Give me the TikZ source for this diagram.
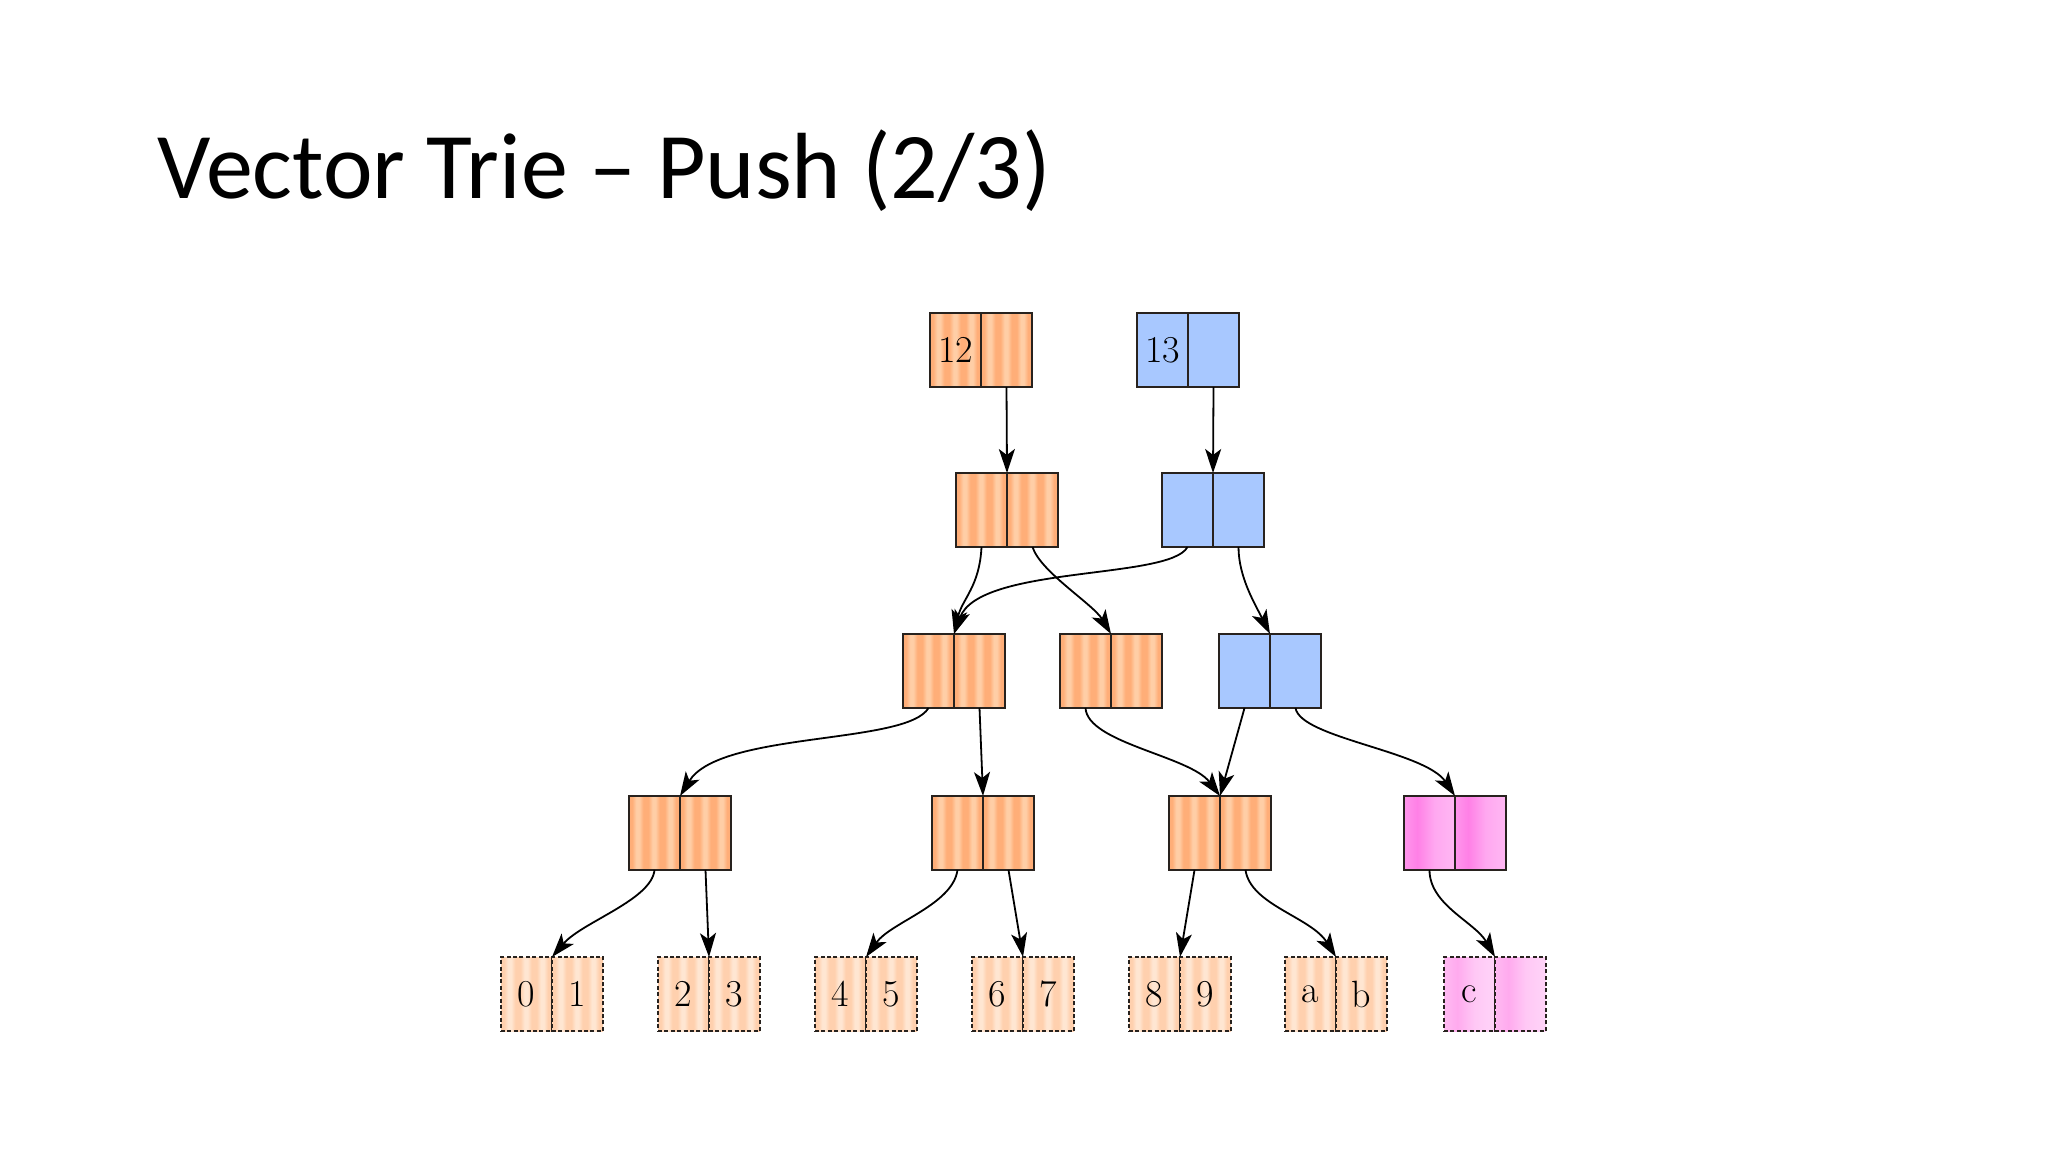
\documentclass[tikz,border=0pt]{standalone}
\usepackage{fontspec}
\newfontfamily\titlefont{Carlito}
\usetikzlibrary{arrows.meta}
\definecolor{orD}{RGB}{255,174,120}
\definecolor{orL}{RGB}{255,206,166}
\definecolor{lfD}{RGB}{255,208,174}
\definecolor{lfL}{RGB}{255,230,210}
\definecolor{blueC}{RGB}{168,200,255}
\definecolor{pkA}{RGB}{255,150,236}
\definecolor{pkB}{RGB}{255,128,230}
\definecolor{pkC}{RGB}{255,168,240}
\definecolor{pkD}{RGB}{255,184,243}
\definecolor{plA}{RGB}{255,186,242}
\definecolor{plB}{RGB}{255,170,238}
\definecolor{plC}{RGB}{255,200,245}
\definecolor{plD}{RGB}{255,212,248}
\definecolor{edgeC}{RGB}{40,34,30}
\pgfdeclarehorizontalshading{ostripe}{100bp}{color(0bp)=(orD); color(25bp)=(orD); color(28bp)=(orD); color(32bp)=(orL); color(35bp)=(orL); color(39bp)=(orD); color(44bp)=(orD); color(48bp)=(orL); color(51bp)=(orL); color(55bp)=(orD); color(60bp)=(orD); color(64bp)=(orL); color(67bp)=(orL); color(71bp)=(orD); color(75bp)=(orD); color(100bp)=(orD)}
\pgfdeclarehorizontalshading{lstripe}{100bp}{color(0bp)=(lfD); color(25bp)=(lfD); color(28bp)=(lfD); color(32bp)=(lfL); color(35bp)=(lfL); color(39bp)=(lfD); color(44bp)=(lfD); color(48bp)=(lfL); color(51bp)=(lfL); color(55bp)=(lfD); color(60bp)=(lfD); color(64bp)=(lfL); color(67bp)=(lfL); color(71bp)=(lfD); color(75bp)=(lfD); color(100bp)=(lfD)}
\pgfdeclarehorizontalshading{pshade}{100bp}{color(0bp)=(pkA); color(25bp)=(pkA); color(38bp)=(pkB); color(55bp)=(pkC); color(75bp)=(pkD); color(100bp)=(pkD)}
\pgfdeclarehorizontalshading{plshade}{100bp}{color(0bp)=(plA); color(25bp)=(plA); color(38bp)=(plB); color(55bp)=(plC); color(75bp)=(plD); color(100bp)=(plD)}
\tikzset{
  cellbase/.style={minimum width=25.5pt, minimum height=37pt, inner sep=0pt, outer sep=0pt,
    font=\fontsize{19}{22}\selectfont},
  ocell/.style={cellbase, shading=ostripe, draw=edgeC, line width=1.2pt},
  bcell/.style={cellbase, fill=blueC, draw=edgeC, line width=1.2pt},
  pcell/.style={cellbase, shading=pshade, draw=edgeC, line width=1.2pt},
  lcell/.style={cellbase, shading=lstripe, draw=edgeC, line width=1pt, dash pattern=on 2pt off 1.2pt},
  plcell/.style={cellbase, shading=plshade, draw=edgeC, line width=1pt, dash pattern=on 2pt off 1.2pt},
  link/.style={draw=black, line width=0.9pt, -{Stealth[length=12pt, width=8pt, inset=3pt]}},
}
\newcommand\twocell[6]{%
  \node[#4] (#1-l) at (#2-25.5,#3) {#5};
  \node[#4] (#1-r) at (#2+25.5,#3) {#6};}
\begin{document}
\begin{tikzpicture}[x=0.5pt, y=-0.5pt]
\useasboundingbox[fill=white] (0,0) rectangle (2048,1152);
\node[anchor=base west, inner sep=0pt, font=\titlefont\fontsize{47}{56}\selectfont] (title) at (157,198) {Vector Trie – Push (2/3)};
% roots
\twocell{r12}{981}{350}{ocell}{12}{}
\twocell{r13}{1188}{350}{bcell}{13}{}
% level 1
\twocell{l1o}{1007}{510}{ocell}{}{}
\twocell{l1b}{1213}{510}{bcell}{}{}
% level 2
\twocell{l2a}{954}{671}{ocell}{}{}
\twocell{l2b}{1111}{671}{ocell}{}{}
\twocell{l2c}{1270}{671}{bcell}{}{}
% level 3
\twocell{l3a}{680}{833}{ocell}{}{}
\twocell{l3b}{983}{833}{ocell}{}{}
\twocell{l3c}{1220}{833}{ocell}{}{}
\twocell{l3d}{1455}{833}{pcell}{}{}
% leaves
\twocell{lf0}{552}{994}{lcell}{0}{1}
\twocell{lf1}{709}{994}{lcell}{2}{3}
\twocell{lf2}{866}{994}{lcell}{4}{5}
\twocell{lf3}{1023}{994}{lcell}{6}{7}
\twocell{lf4}{1180}{994}{lcell}{8}{9}
\twocell{lf5}{1336}{994}{lcell}{a}{b}
\twocell{lf6}{1495}{994}{plcell}{c}{}
% edges
\draw[link] (r12-r.south) -- (l1o-l.north east);
\draw[link] (r13-r.south) -- (l1b-l.north east);
\draw[link] (l1o-l.south) .. controls +(-2,40) and +(8,-35) .. (l2a-l.north east);
\draw[link] (l1o-r.south) .. controls +(8,25) and +(-18,-30) .. (l2b-l.north east);
\draw[link] (l1b-l.south) .. controls +(-18,33) and +(25,-69) .. (l2a-l.north east);
\draw[link] (l1b-r.south) .. controls +(0,30) and +(-15,-30) .. (l2c-l.north east);
\draw[link] (l2a-l.south) .. controls +(-22,37) and +(40,-65) .. (l3a-l.north east);
\draw[link] (l2a-r.south) -- (l3b-l.north east);
\draw[link] (l2b-l.south) .. controls +(2,35) and +(-30,-40) .. (l3c-l.north east);
\draw[link] (l2c-l.south) -- (l3c-l.north east);
\draw[link] (l2c-r.south) .. controls +(5,30) and +(-30,-45) .. (l3d-l.north east);
\draw[link] (l3a-l.south) .. controls +(-3,30) and +(30,-35) .. (lf0-l.north east);
\draw[link] (l3a-r.south) -- (lf1-l.north east);
\draw[link] (l3b-l.south) .. controls +(-5,35) and +(25,-35) .. (lf2-l.north east);
\draw[link] (l3b-r.south) -- (lf3-l.north east);
\draw[link] (l3c-l.south) -- (lf4-l.north east);
\draw[link] (l3c-r.south) .. controls +(5,35) and +(-25,-40) .. (lf5-l.north east);
\draw[link] (l3d-l.south) .. controls +(0,35) and +(-20,-35) .. (lf6-l.north east);
\end{tikzpicture}
\end{document}
